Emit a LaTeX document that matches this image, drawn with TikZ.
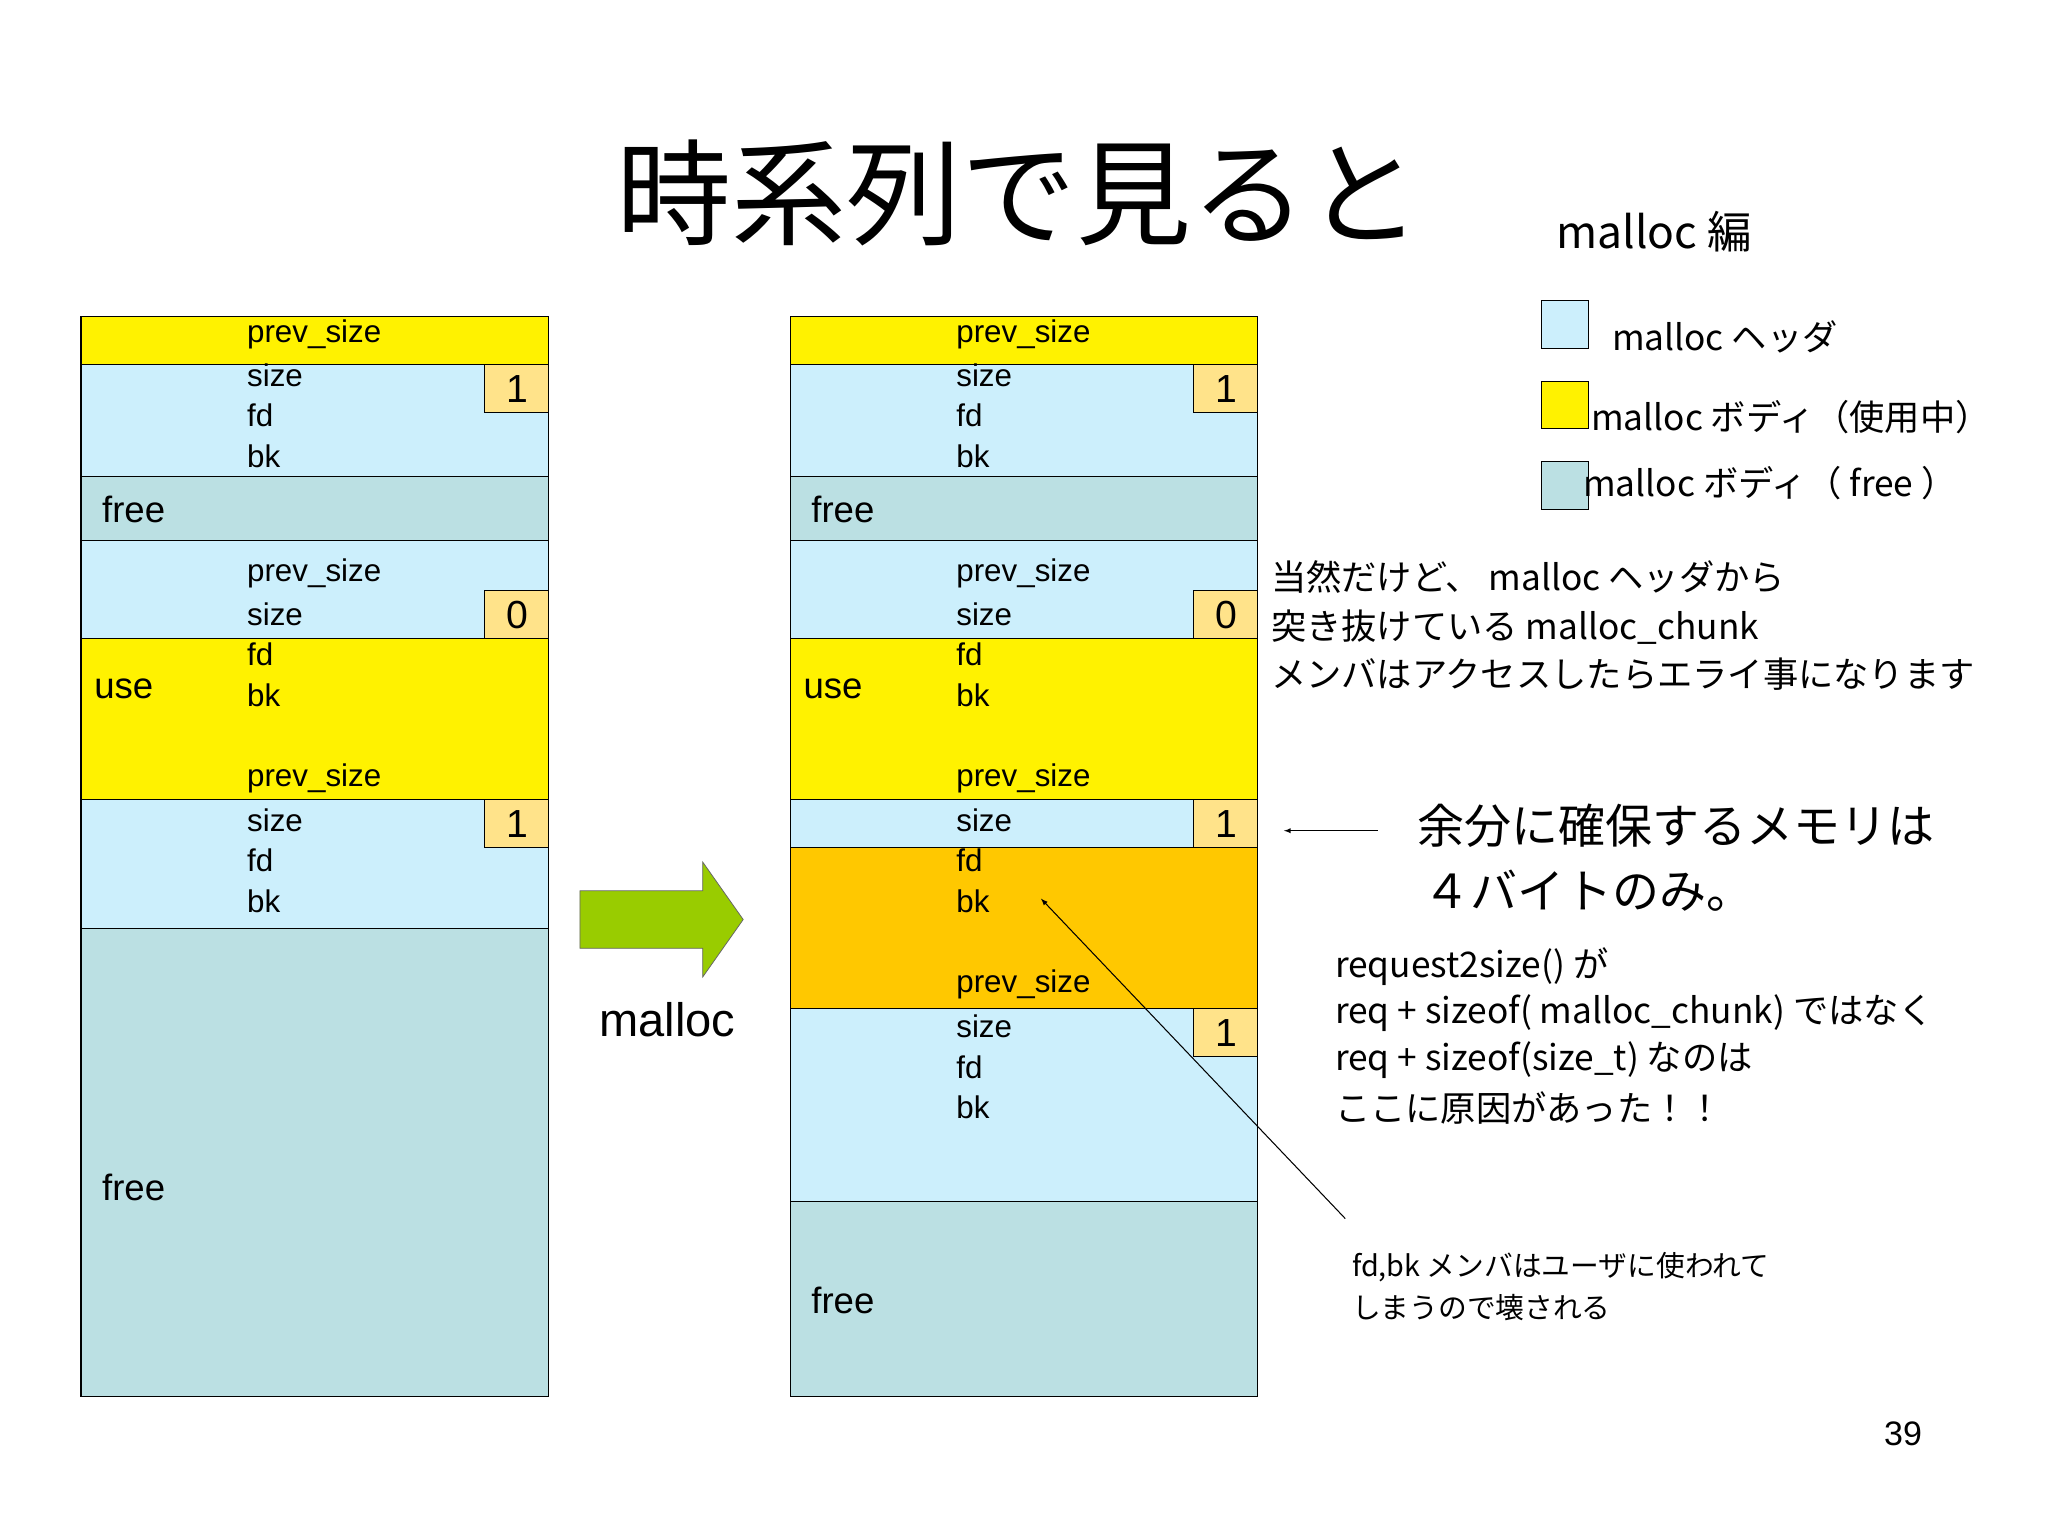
\documentclass[tikz,border=0pt]{standalone}
\usepackage{fontspec}
\setmainfont{Liberation Sans}
\newfontfamily\cjk{Noto Sans CJK JP}
\begin{document}
\begin{tikzpicture}[x=1pt,y=-1pt,
  blk/.style={draw=black,line width=0.8pt},
  hd/.style={blk,fill=cyan!20},
  bd/.style={blk,fill=yellow},
  fr/.style={blk,fill=fbl},
  org/.style={blk,fill=orgc},
  badge/.style={blk,fill=bdg},
  lab/.style={anchor=west,inner sep=0pt,font=\fontsize{24}{28}\selectfont},
  big/.style={anchor=center,inner sep=0pt,font=\fontsize{30}{34}\selectfont},
  jp/.style={anchor=west,inner sep=0pt,font=\cjk\fontsize{27}{32}\selectfont}]
\definecolor{fbl}{HTML}{BBE0E3}
\definecolor{orgc}{HTML}{FFC800}
\definecolor{bdg}{HTML}{FFE38A}
\definecolor{grn}{HTML}{99CC00}
\colorlet{cyan!20}{cyan!20}
\useasboundingbox[fill=white] (0,0) rectangle (1568,1176);
% common column drawing
\foreach \x/\nm in {62/L,605/R}{
  \draw[bd] (\x,242) rectangle ++(358,37);
  \draw[hd] (\x,279) rectangle ++(358,86);
  \draw[fr] (\x,365) rectangle ++(358,49);
  \draw[hd] (\x,414) rectangle ++(358,75);
  \draw[bd] (\x,489) rectangle ++(358,123);
  \draw[badge] (\x+309,279) rectangle ++(49,37);
  \draw[badge] (\x+309,452) rectangle ++(49,37);
  \node[lab] at (\x+127,256) {prev\_size};
  \node[lab] at (\x+127,287) {size};
  \node[lab] at (\x+127,318) {fd};
  \node[lab] at (\x+127,349) {bk};
  \node[lab,font=\fontsize{28}{32}\selectfont] at (\x+16,390) {free};
  \node[lab] at (\x+127,439) {prev\_size};
  \node[lab] at (\x+127,470) {size};
  \node[lab] at (\x+127,501) {fd};
  \node[lab] at (\x+127,532) {bk};
  \node[lab,font=\fontsize{28}{32}\selectfont] at (\x+10,527) {use};
  \node[lab] at (\x+127,596) {prev\_size};
  \node[big] at (\x+334,298) {1};
  \node[big] at (\x+334,471) {0};
}
% left lower
\draw[hd] (62,612) rectangle (420,711);
\draw[fr] (62,711) rectangle (420,1069);
\draw[badge] (371,612) rectangle (420,649);
\node[big] at (396,631) {1};
\node[lab] at (189,628) {size};
\node[lab] at (189,659) {fd};
\node[lab] at (189,690) {bk};
\node[lab,font=\fontsize{28}{32}\selectfont] at (78,909) {free};
% right lower
\draw[hd] (605,612) rectangle (963,649);
\draw[org] (605,649) rectangle (963,772);
\draw[hd] (605,772) rectangle (963,920);
\draw[fr] (605,920) rectangle (963,1069);
\draw[badge] (914,612) rectangle (963,649);
\draw[badge] (914,772) rectangle (963,809);
\node[big] at (939,631) {1};
\node[big] at (939,791) {1};
\node[lab] at (732,628) {size};
\node[lab] at (732,659) {fd};
\node[lab] at (732,690) {bk};
\node[lab] at (732,754) {prev\_size};
\node[lab] at (732,786) {size};
\node[lab] at (732,817) {fd};
\node[lab] at (732,848) {bk};
\node[lab,font=\fontsize{28}{32}\selectfont] at (621,996) {free};
% green arrow
\fill[grn,draw=black!60,line width=0.6pt] (444,682) -- (538,682) -- (538,660) -- (569,704) -- (538,748) -- (538,726) -- (444,726) -- cycle;
\node[anchor=center,font=\fontsize{36}{40}\selectfont] (mal) at (511,781) {malloc};
% title
\node[font=\cjk\fontsize{88}{96}\selectfont] (title) at (780,148) {時系列で見ると};
\node[font=\cjk\fontsize{34}{40}\selectfont,anchor=west] (sub) at (1188,177) {malloc 編};
% legend
\draw[hd] (1180,230) rectangle (1216,267);
\draw[bd] (1180,292) rectangle (1216,328);
\draw[fr] (1180,353) rectangle (1216,390);
\node[jp] at (1234,258) {malloc ヘッダ};
\node[jp] at (1218,319) {malloc ボディ（使用中）};
\node[jp] at (1212,370) {malloc ボディ（ free ）};
% notes
\node[jp] at (973,442) {当然だけど、 malloc ヘッダから};
\node[jp] at (973,480) {突き抜けている malloc\_chunk};
\node[jp] at (973,516) {メンバはアクセスしたらエライ事になります};
\coordinate (a1) at (1055,636); \coordinate (a2) at (983,636);
\draw[-latex,line width=0.8pt] (a1) -- (a2);
\node[jp,font=\cjk\fontsize{36}{40}\selectfont] at (1085,632) {余分に確保するメモリは};
\node[jp,font=\cjk\fontsize{36}{40}\selectfont] at (1090,682) {４バイトのみ。};
\node[jp] at (1022,740) {request2size() が};
\node[jp] at (1022,776) {req + sizeof( malloc\_chunk) ではなく};
\node[jp] at (1022,812) {req + sizeof(size\_t) なのは};
\node[jp] at (1022,848) {ここに原因があった！！};
\coordinate (b1) at (1030,933); \coordinate (b2) at (797,688);
\draw[-latex,line width=0.8pt] (b1) -- (b2);
\node[jp,font=\cjk\fontsize{22}{26}\selectfont] at (1035,970) {fd,bk メンバはユーザに使われて};
\node[jp,font=\cjk\fontsize{22}{26}\selectfont] at (1035,1001) {しまうので壊される};
\node[font=\fontsize{26}{30}\selectfont] (pg) at (1457,1098) {39};
\end{tikzpicture}
\end{document}
